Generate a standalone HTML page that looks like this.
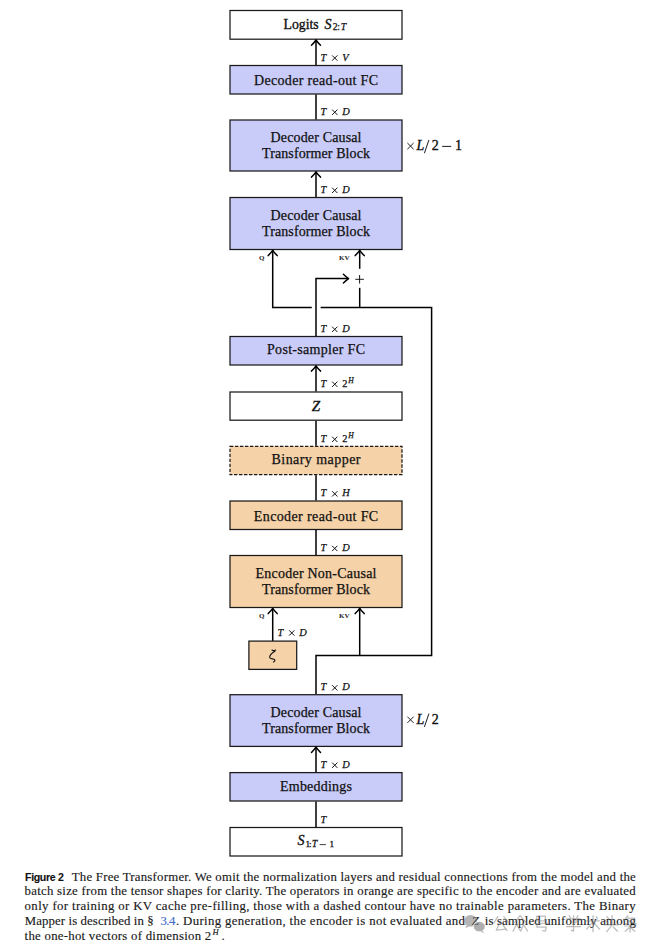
<!DOCTYPE html><html><head><meta charset="utf-8"><style>html,body{margin:0;padding:0;background:#fff;}body{width:660px;height:951px;overflow:hidden;position:relative;}svg{position:absolute;left:0;top:0;}</style></head><body>
<svg width="660" height="951" viewBox="0 0 660 951">
<rect x="0" y="0" width="660" height="951" fill="#fff"/>
<rect x="230.0" y="10.5" width="172.0" height="28.7" fill="#ffffff" stroke="#1a1a1a" stroke-width="1.25"/>
<rect x="230.0" y="65.5" width="172.0" height="28.5" fill="#c9cbf8" stroke="#1a1a1a" stroke-width="1.25"/>
<rect x="230.0" y="120.0" width="172.0" height="51.0" fill="#c9cbf8" stroke="#1a1a1a" stroke-width="1.25"/>
<rect x="230.0" y="197.5" width="172.0" height="52.0" fill="#c9cbf8" stroke="#1a1a1a" stroke-width="1.25"/>
<rect x="230.0" y="336.5" width="172.0" height="28.5" fill="#c9cbf8" stroke="#1a1a1a" stroke-width="1.25"/>
<rect x="230.0" y="392.0" width="172.0" height="28.2" fill="#ffffff" stroke="#1a1a1a" stroke-width="1.25"/>
<rect x="230.0" y="446.3" width="172.0" height="28.4" fill="#f5d2a8" stroke="#1a1a1a" stroke-width="1.25" stroke-dasharray="3.4 1.6"/>
<rect x="230.0" y="501.0" width="172.0" height="28.5" fill="#f5d2a8" stroke="#1a1a1a" stroke-width="1.25"/>
<rect x="230.0" y="555.5" width="172.0" height="52.0" fill="#f5d2a8" stroke="#1a1a1a" stroke-width="1.25"/>
<rect x="230.0" y="694.7" width="172.0" height="51.7" fill="#c9cbf8" stroke="#1a1a1a" stroke-width="1.25"/>
<rect x="230.0" y="772.6" width="172.0" height="28.4" fill="#c9cbf8" stroke="#1a1a1a" stroke-width="1.25"/>
<rect x="230.0" y="827.5" width="172.0" height="28.5" fill="#ffffff" stroke="#1a1a1a" stroke-width="1.25"/>
<rect x="248.9" y="641.1" width="47.8" height="28.3" fill="#f5d2a8" stroke="#1a1a1a" stroke-width="1.25"/>
<line x1="316.0" y1="39.8" x2="316.0" y2="64.9" stroke="#000" stroke-width="1.5"/>
<path d="M311.5,45.3 Q314.7,42.0 316.0,40.0 Q317.3,42.0 320.5,45.3" fill="none" stroke="#000" stroke-width="1.5" stroke-linecap="round" stroke-linejoin="round"/>
<line x1="316.0" y1="94.6" x2="316.0" y2="119.4" stroke="#000" stroke-width="1.5"/>
<line x1="316.0" y1="171.6" x2="316.0" y2="196.9" stroke="#000" stroke-width="1.5"/>
<path d="M311.5,177.1 Q314.7,173.79999999999998 316.0,171.79999999999998 Q317.3,173.79999999999998 320.5,177.1" fill="none" stroke="#000" stroke-width="1.5" stroke-linecap="round" stroke-linejoin="round"/>
<path d="M316.0,336 V278.6 H347.8" fill="none" stroke="#000" stroke-width="1.5" stroke-linejoin="miter"/>
<path d="M343.40000000000003,274.20000000000005 Q346.6,277.3 348.6,278.6 Q346.6,279.90000000000003 343.40000000000003,283.0" fill="none" stroke="#000" stroke-width="1.5" stroke-linecap="round" stroke-linejoin="round"/>
<path d="M355.3,279.3 H363.9 M359.6,275 V283.6" stroke="#000" stroke-width="0.9" fill="none"/>
<line x1="359.7" y1="250.1" x2="359.7" y2="268.8" stroke="#000" stroke-width="1.5"/>
<path d="M355.2,255.6 Q358.4,252.29999999999998 359.7,250.29999999999998 Q361.0,252.29999999999998 364.2,255.6" fill="none" stroke="#000" stroke-width="1.5" stroke-linecap="round" stroke-linejoin="round"/>
<line x1="359.7" y1="287.8" x2="359.7" y2="307.4" stroke="#000" stroke-width="1.5"/>
<path d="M272.7,250.1 V307.4 H311.8" fill="none" stroke="#000" stroke-width="1.5" stroke-linejoin="miter"/>
<path d="M320.6,307.4 H431.6 V655.5 H316.0 V694.1" fill="none" stroke="#000" stroke-width="1.5" stroke-linejoin="miter"/>
<path d="M268.2,255.6 Q271.4,252.29999999999998 272.7,250.29999999999998 Q274.0,252.29999999999998 277.2,255.6" fill="none" stroke="#000" stroke-width="1.5" stroke-linecap="round" stroke-linejoin="round"/>
<line x1="316.0" y1="365.6" x2="316.0" y2="391.4" stroke="#000" stroke-width="1.5"/>
<path d="M311.5,371.1 Q314.7,367.8 316.0,365.8 Q317.3,367.8 320.5,371.1" fill="none" stroke="#000" stroke-width="1.5" stroke-linecap="round" stroke-linejoin="round"/>
<line x1="316.0" y1="420.8" x2="316.0" y2="445.7" stroke="#000" stroke-width="1.5"/>
<line x1="316.0" y1="475.3" x2="316.0" y2="500.4" stroke="#000" stroke-width="1.5"/>
<line x1="316.0" y1="530.1" x2="316.0" y2="554.9" stroke="#000" stroke-width="1.5"/>
<line x1="272.7" y1="608.1" x2="272.7" y2="640.9" stroke="#000" stroke-width="1.5"/>
<path d="M268.2,613.6 Q271.4,610.3000000000001 272.7,608.3000000000001 Q274.0,610.3000000000001 277.2,613.6" fill="none" stroke="#000" stroke-width="1.5" stroke-linecap="round" stroke-linejoin="round"/>
<line x1="359.7" y1="608.1" x2="359.7" y2="655.5" stroke="#000" stroke-width="1.5"/>
<path d="M355.2,613.6 Q358.4,610.3000000000001 359.7,608.3000000000001 Q361.0,610.3000000000001 364.2,613.6" fill="none" stroke="#000" stroke-width="1.5" stroke-linecap="round" stroke-linejoin="round"/>
<line x1="316.0" y1="747.0" x2="316.0" y2="772.0" stroke="#000" stroke-width="1.5"/>
<path d="M311.5,752.5 Q314.7,749.2 316.0,747.2 Q317.3,749.2 320.5,752.5" fill="none" stroke="#000" stroke-width="1.5" stroke-linecap="round" stroke-linejoin="round"/>
<line x1="316.0" y1="801.6" x2="316.0" y2="826.9" stroke="#000" stroke-width="1.5"/>
<text x="316.0" y="85.0" font-family="Liberation Serif" font-size="14" text-anchor="middle" fill="#111" stroke="#111" stroke-width="0.25" textLength="124" lengthAdjust="spacing"  >Decoder read-out FC</text>
<text x="316.0" y="142.0" font-family="Liberation Serif" font-size="14" text-anchor="middle" fill="#111" stroke="#111" stroke-width="0.25" textLength="91" lengthAdjust="spacing"  >Decoder Causal</text>
<text x="316.0" y="158.3" font-family="Liberation Serif" font-size="14" text-anchor="middle" fill="#111" stroke="#111" stroke-width="0.25" textLength="108" lengthAdjust="spacing"  >Transformer Block</text>
<text x="316.0" y="219.5" font-family="Liberation Serif" font-size="14" text-anchor="middle" fill="#111" stroke="#111" stroke-width="0.25" textLength="91" lengthAdjust="spacing"  >Decoder Causal</text>
<text x="316.0" y="235.8" font-family="Liberation Serif" font-size="14" text-anchor="middle" fill="#111" stroke="#111" stroke-width="0.25" textLength="108" lengthAdjust="spacing"  >Transformer Block</text>
<text x="316.0" y="354.4" font-family="Liberation Serif" font-size="14" text-anchor="middle" fill="#111" stroke="#111" stroke-width="0.25" textLength="98" lengthAdjust="spacing"  >Post-sampler FC</text>
<text x="316.0" y="464.4" font-family="Liberation Serif" font-size="14" text-anchor="middle" fill="#111" stroke="#111" stroke-width="0.25" textLength="89" lengthAdjust="spacing"  >Binary mapper</text>
<text x="316.0" y="521.0" font-family="Liberation Serif" font-size="14" text-anchor="middle" fill="#111" stroke="#111" stroke-width="0.25" textLength="124.4" lengthAdjust="spacing"  >Encoder read-out FC</text>
<text x="316.0" y="578.0" font-family="Liberation Serif" font-size="14" text-anchor="middle" fill="#111" stroke="#111" stroke-width="0.25" textLength="121" lengthAdjust="spacing"  >Encoder Non-Causal</text>
<text x="316.0" y="594.3" font-family="Liberation Serif" font-size="14" text-anchor="middle" fill="#111" stroke="#111" stroke-width="0.25" textLength="108" lengthAdjust="spacing"  >Transformer Block</text>
<text x="316.0" y="717.0" font-family="Liberation Serif" font-size="14" text-anchor="middle" fill="#111" stroke="#111" stroke-width="0.25" textLength="91" lengthAdjust="spacing"  >Decoder Causal</text>
<text x="316.0" y="733.3" font-family="Liberation Serif" font-size="14" text-anchor="middle" fill="#111" stroke="#111" stroke-width="0.25" textLength="108" lengthAdjust="spacing"  >Transformer Block</text>
<text x="316.0" y="790.6" font-family="Liberation Serif" font-size="14" text-anchor="middle" fill="#111" stroke="#111" stroke-width="0.25" textLength="72" lengthAdjust="spacing"  >Embeddings</text>
<text x="283.5" y="28.7" font-family="Liberation Serif" font-size="14" fill="#111" stroke="#111" stroke-width="0.35" textLength="35.2" lengthAdjust="spacingAndGlyphs">Logits</text>
<text x="328.0" y="28.7" font-family="Liberation Serif" font-size="14" text-anchor="middle" fill="#111" stroke="#111" stroke-width="0.35" font-style="italic">S</text>
<text x="335.3" y="30.2" font-family="Liberation Serif" font-size="9.8" text-anchor="middle" fill="#111" stroke="#111" stroke-width="0.25">2</text>
<text x="338.7" y="30.2" font-family="Liberation Serif" font-size="9.8" text-anchor="middle" fill="#111" stroke="#111" stroke-width="0.25">:</text>
<text x="343.6" y="30.2" font-family="Liberation Serif" font-size="9.8" text-anchor="middle" fill="#111" stroke="#111" stroke-width="0.25" font-style="italic">T</text>
<text x="316.0" y="410.7" font-family="Liberation Serif" font-size="15" text-anchor="middle" fill="#111" stroke="#111" stroke-width="0.35" font-style="italic">Z</text>
<path d="M272.0,650.0 Q273.6,651.3 275.6,650.0 M274.9,651.2 C271.6,653.2 269.4,655.4 269.7,657.5 C270.0,659.4 274.7,658.5 274.9,660.1 C275.0,660.9 274.3,661.6 273.5,662.0" fill="none" stroke="#111" stroke-width="1.15" stroke-linecap="round"/>
<text x="301.0" y="844.5" font-family="Liberation Serif" font-size="14" text-anchor="middle" fill="#111" stroke="#111" stroke-width="0.35" font-style="italic">S</text>
<text x="307.7" y="846.8" font-family="Liberation Serif" font-size="9.2" text-anchor="middle" fill="#111" stroke="#111" stroke-width="0.3">1</text>
<text x="310.4" y="846.8" font-family="Liberation Serif" font-size="9.2" text-anchor="middle" fill="#111" stroke="#111" stroke-width="0.3">:</text>
<text x="314.6" y="846.8" font-family="Liberation Serif" font-size="9.4" text-anchor="middle" fill="#111" stroke="#111" stroke-width="0.3" font-style="italic">T</text>
<line x1="319.6" y1="844.6" x2="325.9" y2="844.6" stroke="#111" stroke-width="0.8"/>
<text x="331.8" y="846.8" font-family="Liberation Serif" font-size="9.2" text-anchor="middle" fill="#111" stroke="#111" stroke-width="0.3">1</text>
<path d="M407.4,143.0 L413.6,149.20000000000002 M413.6,143.0 L407.4,149.20000000000002" stroke="#111" stroke-width="0.95"/>
<text x="420.4" y="149.9" font-family="Liberation Serif" font-size="14" text-anchor="middle" fill="#111" stroke="#111" stroke-width="0.35" font-style="italic">L</text>
<line x1="424.4" y1="153.20000000000002" x2="428.9" y2="140.0" stroke="#111" stroke-width="0.95"/>
<text x="435.3" y="149.9" font-family="Liberation Serif" font-size="14" text-anchor="middle" fill="#111" stroke="#111" stroke-width="0.35">2</text>
<line x1="442.2" y1="146.4" x2="451.2" y2="146.4" stroke="#111" stroke-width="0.95"/>
<text x="458.5" y="149.9" font-family="Liberation Serif" font-size="14" text-anchor="middle" fill="#111" stroke="#111" stroke-width="0.35">1</text>
<path d="M407.4,716.7 L413.6,722.9 M413.6,716.7 L407.4,722.9" stroke="#111" stroke-width="0.95"/>
<text x="420.4" y="723.6" font-family="Liberation Serif" font-size="14" text-anchor="middle" fill="#111" stroke="#111" stroke-width="0.35" font-style="italic">L</text>
<line x1="424.4" y1="726.9" x2="428.9" y2="713.7" stroke="#111" stroke-width="0.95"/>
<text x="435.3" y="723.6" font-family="Liberation Serif" font-size="14" text-anchor="middle" fill="#111" stroke="#111" stroke-width="0.35">2</text>
<text y="60.6" font-family="Liberation Serif" font-size="10.4" fill="#111" stroke="#111" stroke-width="0.25"><tspan x="320.4" font-style="italic">T</tspan><tspan x="342.3" font-style="italic">V</tspan></text>
<path d="M332.1,55.4 L337.4,60.7 M337.4,55.4 L332.1,60.7" stroke="#111" stroke-width="1.0"/>
<text y="114.8" font-family="Liberation Serif" font-size="10.4" fill="#111" stroke="#111" stroke-width="0.25"><tspan x="320.4" font-style="italic">T</tspan><tspan x="342.3" font-style="italic">D</tspan></text>
<path d="M332.1,109.6 L337.4,114.89999999999999 M337.4,109.6 L332.1,114.89999999999999" stroke="#111" stroke-width="1.0"/>
<text y="192.9" font-family="Liberation Serif" font-size="10.4" fill="#111" stroke="#111" stroke-width="0.25"><tspan x="320.4" font-style="italic">T</tspan><tspan x="342.3" font-style="italic">D</tspan></text>
<path d="M332.1,187.70000000000002 L337.4,193.0 M337.4,187.70000000000002 L332.1,193.0" stroke="#111" stroke-width="1.0"/>
<text y="331.9" font-family="Liberation Serif" font-size="10.4" fill="#111" stroke="#111" stroke-width="0.25"><tspan x="320.4" font-style="italic">T</tspan><tspan x="342.3" font-style="italic">D</tspan></text>
<path d="M332.1,326.7 L337.4,332.0 M337.4,326.7 L332.1,332.0" stroke="#111" stroke-width="1.0"/>
<text y="386.8" font-family="Liberation Serif" font-size="10.4" fill="#111" stroke="#111" stroke-width="0.25"><tspan x="320.4" font-style="italic">T</tspan><tspan x="342.2">2</tspan><tspan x="348.2" dy="-3.9" font-size="7.6" font-style="italic">H</tspan></text>
<path d="M332.1,381.6 L337.4,386.90000000000003 M337.4,381.6 L332.1,386.90000000000003" stroke="#111" stroke-width="1.0"/>
<text y="441.9" font-family="Liberation Serif" font-size="10.4" fill="#111" stroke="#111" stroke-width="0.25"><tspan x="320.4" font-style="italic">T</tspan><tspan x="342.2">2</tspan><tspan x="348.2" dy="-3.9" font-size="7.6" font-style="italic">H</tspan></text>
<path d="M332.1,436.7 L337.4,442.0 M337.4,436.7 L332.1,442.0" stroke="#111" stroke-width="1.0"/>
<text y="496.4" font-family="Liberation Serif" font-size="10.4" fill="#111" stroke="#111" stroke-width="0.25"><tspan x="320.4" font-style="italic">T</tspan><tspan x="342.3" font-style="italic">H</tspan></text>
<path d="M332.1,491.2 L337.4,496.5 M337.4,491.2 L332.1,496.5" stroke="#111" stroke-width="1.0"/>
<text y="551.0" font-family="Liberation Serif" font-size="10.4" fill="#111" stroke="#111" stroke-width="0.25"><tspan x="320.4" font-style="italic">T</tspan><tspan x="342.3" font-style="italic">D</tspan></text>
<path d="M332.1,545.8 L337.4,551.1 M337.4,545.8 L332.1,551.1" stroke="#111" stroke-width="1.0"/>
<text y="635.5" font-family="Liberation Serif" font-size="10.4" fill="#111" stroke="#111" stroke-width="0.25"><tspan x="277.4" font-style="italic">T</tspan><tspan x="299.3" font-style="italic">D</tspan></text>
<path d="M289.1,630.3 L294.4,635.6 M294.4,630.3 L289.1,635.6" stroke="#111" stroke-width="1.0"/>
<text y="690.4" font-family="Liberation Serif" font-size="10.4" fill="#111" stroke="#111" stroke-width="0.25"><tspan x="320.4" font-style="italic">T</tspan><tspan x="342.3" font-style="italic">D</tspan></text>
<path d="M332.1,685.1999999999999 L337.4,690.5 M337.4,685.1999999999999 L332.1,690.5" stroke="#111" stroke-width="1.0"/>
<text y="767.8" font-family="Liberation Serif" font-size="10.4" fill="#111" stroke="#111" stroke-width="0.25"><tspan x="320.4" font-style="italic">T</tspan><tspan x="342.3" font-style="italic">D</tspan></text>
<path d="M332.1,762.5999999999999 L337.4,767.9 M337.4,762.5999999999999 L332.1,767.9" stroke="#111" stroke-width="1.0"/>
<text y="822.8" font-family="Liberation Serif" font-size="10.4" fill="#111" stroke="#111" stroke-width="0.25"><tspan x="320.4" font-style="italic">T</tspan></text>
<text x="259" y="260.2" font-family="Liberation Serif" font-size="7" font-weight="bold" fill="#222">Q</text>
<text x="339" y="260.2" font-family="Liberation Serif" font-size="7" font-weight="bold" fill="#222">KV</text>
<text x="259" y="618" font-family="Liberation Serif" font-size="7" font-weight="bold" fill="#222">Q</text>
<text x="339" y="618" font-family="Liberation Serif" font-size="7" font-weight="bold" fill="#222">KV</text>
<text x="25.0" y="880.5" font-family="Liberation Sans" font-size="10.6" fill="#111" stroke="#111" stroke-width="0.12" textLength="38.8" lengthAdjust="spacing" font-weight="bold">Figure 2</text>
<text x="71.8" y="880.5" font-family="Liberation Serif" font-size="12.8" fill="#1a1a1a" stroke="#1a1a1a" stroke-width="0.15" textLength="564" lengthAdjust="spacing" >The Free Transformer. We omit the normalization layers and residual connections from the model and the</text>
<text x="24.6" y="895.4" font-family="Liberation Serif" font-size="12.8" fill="#1a1a1a" stroke="#1a1a1a" stroke-width="0.15" textLength="611" lengthAdjust="spacing" >batch size from the tensor shapes for clarity. The operators in orange are specific to the encoder and are evaluated</text>
<text x="24.6" y="910.1" font-family="Liberation Serif" font-size="12.8" fill="#1a1a1a" stroke="#1a1a1a" stroke-width="0.15" textLength="611" lengthAdjust="spacing" >only for training or KV cache pre-filling, those with a dashed contour have no trainable parameters. The Binary</text>
<text x="24.8" y="924.6" font-family="Liberation Serif" font-size="12.8" fill="#1a1a1a" stroke="#1a1a1a" stroke-width="0.15" textLength="128.8" lengthAdjust="spacing" >Mapper is described in §</text>
<text x="160.4" y="924.6" font-family="Liberation Serif" font-size="12.8" fill="#3f6bc9" stroke="#3f6bc9" stroke-width="0.15" textLength="15" lengthAdjust="spacing" >3.4</text>
<text x="176.0" y="924.6" font-family="Liberation Serif" font-size="12.8" fill="#1a1a1a" stroke="#1a1a1a" stroke-width="0.15" textLength="289" lengthAdjust="spacing" >. During generation, the encoder is not evaluated and</text>
<text x="471.8" y="924.6" font-family="Liberation Serif" font-size="12.8" fill="#1a1a1a" stroke="#1a1a1a" stroke-width="0.15" font-style="italic">Z</text>
<text x="484.7" y="924.6" font-family="Liberation Serif" font-size="12.8" fill="#1a1a1a" stroke="#1a1a1a" stroke-width="0.15" textLength="151.1" lengthAdjust="spacing" >is sampled uniformly among</text>
<text x="24.6" y="939.7" font-family="Liberation Serif" font-size="12.8" fill="#1a1a1a" stroke="#1a1a1a" stroke-width="0.15" textLength="186.6" lengthAdjust="spacing" >the one-hot vectors of dimension 2</text>
<text x="212.4" y="934.9" font-family="Liberation Serif" font-size="8.5" fill="#1a1a1a" stroke="#1a1a1a" stroke-width="0.15" font-style="italic">H</text>
<text x="221.5" y="939.7" font-family="Liberation Serif" font-size="12.8" fill="#1a1a1a" stroke="#1a1a1a" stroke-width="0.15" >.</text>
<g>
<ellipse cx="470.6" cy="920.8" rx="6.6" ry="5.9" fill="rgba(120,120,120,0.55)"/>
<path d="M466.5,925.5 L465.3,928.3 L468.8,926.5 Z" fill="rgba(120,120,120,0.55)"/>
<ellipse cx="479.3" cy="926.6" rx="5.9" ry="5.2" fill="rgba(120,120,120,0.6)" stroke="#fff" stroke-width="0.8"/>
<path d="M482.5,931 L484.3,933.3 L480.6,931.6 Z" fill="rgba(120,120,120,0.6)"/>
<path transform="translate(493.5,915.6) scale(1.08,1.04)" d="M4,1 L0.5,7 M9.5,1 L14,7 M6.5,6 L2.5,14 L12,13 M9,9.5 L12.5,14.5" stroke="rgba(125,125,125,0.5)" stroke-width="1.2" fill="none" stroke-linecap="round" stroke-linejoin="round"/>
<path transform="translate(512.5,915.6) scale(1.08,1.04)" d="M7,0 L2,6.5 M7,0 L12.5,6.5 M4,8 L0.5,15 M4,9 L7,14 M10.5,8 L7.5,15 M10.5,9 L14,15" stroke="rgba(125,125,125,0.5)" stroke-width="1.2" fill="none" stroke-linecap="round" stroke-linejoin="round"/>
<path transform="translate(533.5,915.6) scale(1.08,1.04)" d="M3,0.5 H11 V5 H3 Z M0.5,7.5 H13.5 M4,7.5 L3,11 H12 L11,15 L8.5,14.5" stroke="rgba(125,125,125,0.5)" stroke-width="1.2" fill="none" stroke-linecap="round" stroke-linejoin="round"/>
<path transform="translate(566.0,915.6) scale(1.08,1.04)" d="M3,0 L4,2 M7,0 V2 M11,0 L10,2 M1,5 V3 H13 V5 M4,6 H10 L7,8 V15 L5,14 M0.5,10.5 H13.5" stroke="rgba(125,125,125,0.5)" stroke-width="1.2" fill="none" stroke-linecap="round" stroke-linejoin="round"/>
<path transform="translate(585.5,915.6) scale(1.08,1.04)" d="M1,5 H13 M7,0 V15.5 M7,6 L1,13 M7,6 L13,13 M10,1 L11,3" stroke="rgba(125,125,125,0.5)" stroke-width="1.2" fill="none" stroke-linecap="round" stroke-linejoin="round"/>
<path transform="translate(603.5,915.6) scale(1.08,1.04)" d="M3,1 L5,3 M2,5 L4,7 M0.5,9 H13.5 M8,0 V9 L3,15.5 M9,11 L13,15" stroke="rgba(125,125,125,0.5)" stroke-width="1.2" fill="none" stroke-linecap="round" stroke-linejoin="round"/>
<path transform="translate(622.5,915.6) scale(1.08,1.04)" d="M5,0 L1,5 M4,2.5 H11 L3,8 M5,4.5 L13,8 M2,10 H12 M7,8 V16 M7,11 L2.5,15 M7,11 L11.5,15" stroke="rgba(125,125,125,0.5)" stroke-width="1.2" fill="none" stroke-linecap="round" stroke-linejoin="round"/>
</g>
</svg>
</body></html>
